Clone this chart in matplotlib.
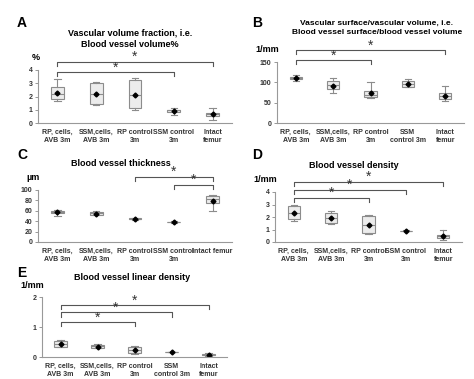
import matplotlib.pyplot as plt

plt.rcParams['font.family'] = ['Liberation Sans', 'DejaVu Sans']

# data: per group (whislo, q1, med, q3, whishi, mean)
vol_pct = [(1.65, 1.8, 2.2, 2.7, 3.3, 2.3),
           (1.35, 1.4, 2.2, 3.05, 3.1, 2.2),
           (0.95, 1.1, 2.15, 3.25, 3.4, 2.15),
           (0.6, 0.85, 0.95, 1.0, 1.1, 0.9),
           (0.25, 0.55, 0.65, 0.75, 1.15, 0.68)]
surf_vol = [(103, 107, 110, 112, 118, 110),
            (75, 83, 93, 103, 110, 92),
            (62, 63, 68, 78, 100, 74),
            (88, 89, 97, 104, 107, 96),
            (53, 60, 67, 73, 91, 67)]
thickness = [(50, 56, 58, 60, 62, 57),
             (51, 52, 55, 58, 59, 54),
             (43, 44, 45, 46, 47, 45),
             (37, 38, 38.5, 39, 40, 39),
             (60, 75, 82, 88, 90, 79)]
density = [(1.7, 1.85, 2.3, 2.85, 3.0, 2.35),
           (1.45, 1.55, 1.95, 2.35, 2.45, 1.95),
           (0.65, 0.7, 1.4, 2.05, 2.15, 1.35),
           (0.88, 0.9, 0.9, 0.92, 0.94, 0.9),
           (0.15, 0.35, 0.45, 0.6, 1.0, 0.45)]
lin_density = [(0.33, 0.35, 0.45, 0.52, 0.58, 0.43),
               (0.3, 0.31, 0.36, 0.4, 0.42, 0.35),
               (0.1, 0.13, 0.25, 0.35, 0.38, 0.23),
               (0.16, 0.165, 0.17, 0.175, 0.18, 0.17),
               (0.03, 0.06, 0.08, 0.1, 0.13, 0.08)]

labels_a = ["RP, cells,\nAVB 3m", "SSM,cells,\nAVB 3m", "RP control\n3m", "SSM control\n3m", "Intact\nfemur"]
labels_b = ["RP, cells,\nAVB 3m", "SSM,cells,\nAVB 3m", "RP control\n3m", "SSM\ncontrol 3m", "Intact\nfemur"]
labels_c = ["RP, cells,\nAVB 3m", "SSM,cells,\nAVB 3m", "RP control\n3m", "SSM control\n3m", "Intact femur\n"]

# significance brackets: (group from, group to, height)
sig_a = [(0, 4, 4.63), (0, 3, 3.83)]
sig_b = [(0, 4, 179), (0, 2, 155)]
sig_c = [(2, 4, 125), (3, 4, 110)]
sig_d = [(0, 4, 4.83), (0, 3, 4.16), (0, 2, 3.5)]
sig_e = [(0, 4, 1.73), (0, 3, 1.49), (0, 2, 1.16)]

W, H = 474, 379
fig = plt.figure(figsize=(W / 100, H / 100), dpi=100)


def panel(rect, data, labels, ylim, yticks, unit, sig, ticklen):
    l, t, r, b = rect
    ax = fig.add_axes([l / W, 1 - b / H, (r - l) / W, (b - t) / H])
    stats = [dict(whislo=d[0], q1=d[1], med=d[2], q3=d[3], whishi=d[4], mean=d[5], fliers=[])
             for d in data]
    pos = list(range(1, len(data) + 1))
    ax.bxp(stats, positions=pos, widths=0.33, showmeans=True, patch_artist=True,
           boxprops=dict(facecolor='#ececec', edgecolor='#8c8c8c', linewidth=0.8),
           medianprops=dict(color='#8c8c8c', linewidth=0.8),
           whiskerprops=dict(color='#8c8c8c', linewidth=0.8),
           capprops=dict(color='#8c8c8c', linewidth=0.8),
           meanprops=dict(marker='D', markerfacecolor='black', markeredgecolor='black', markersize=2.5))
    ax.set_xlim(0.5, len(data) + 0.5)
    ax.set_ylim(*ylim)
    ax.set_yticks(yticks)
    ax.set_xticks(pos)
    ax.set_xticklabels(labels, fontsize=5, color='#333333', fontweight='bold', linespacing=1.3)
    ax.tick_params(axis='x', length=0, pad=4)
    ax.tick_params(axis='y', labelsize=5, length=2, width=0.6, color='#888888', pad=2)
    for lab in ax.get_yticklabels():
        lab.set_fontweight('bold')
        lab.set_color('#333333')
    for s in ['top', 'right']:
        ax.spines[s].set_visible(False)
    for s in ['left', 'bottom']:
        ax.spines[s].set_color('#999999')
        ax.spines[s].set_linewidth(0.8)
    fig.text((l + 2) / W, 1 - (t - 12) / H, unit, fontsize=6.5, fontweight='bold', ha='right', va='center')
    span = ylim[1] - ylim[0]
    for a, bb, y in sig:
        ax.plot([a + 1, a + 1, bb + 1, bb + 1], [y - ticklen * span, y, y, y - ticklen * span],
                color='#555555', lw=0.8, clip_on=False)
        ax.text((a + bb + 2) / 2, y - 0.04 * span, '*', ha='center', va='bottom', fontsize=10,
                color='#333333', clip_on=False)
    return ax


panel((38, 70, 232, 123), vol_pct, labels_a, (0, 4), [0, 1, 2, 3, 4], '%', sig_a, 0.08)
panel((277, 62, 464, 123), surf_vol, labels_b, (0, 150), [0, 50, 100, 150], '1/mm', sig_b, 0.07)
panel((38, 190, 232, 242), thickness, labels_c, (0, 100), [0, 20, 40, 60, 80, 100], 'µm', sig_c, 0.08)
panel((275, 192, 462, 242), density, labels_a, (0, 4), [0, 1, 2, 3, 4], '1/mm', sig_d, 0.08)
panel((42, 297, 227, 357), lin_density, labels_b, (0, 2), [0, 1, 2], '1/mm', sig_e, 0.07)

# panel letters and titles
for x, y, s in [(22, 23, 'A'), (257, 23, 'B'), (22, 155, 'C'), (257, 155, 'D'), (22, 273, 'E')]:
    fig.text(x / W, 1 - y / H, s, fontsize=10, fontweight='bold', ha='center', va='center')
for x, y, s, fs in [(130, 39, 'Vascular volume fraction, i.e.\nBlood vessel volume%', 6.5),
                    (377, 28, 'Vascular surface/vascular volume, i.e.\nBlood vessel surface/blood vessel volume', 6),
                    (121, 164, 'Blood vessel thickness', 6.5),
                    (354, 165, 'Blood vessel density', 6.5),
                    (132, 278, 'Blood vessel linear density', 6.5)]:
    fig.text(x / W, 1 - y / H, s, fontsize=fs, fontweight='bold', ha='center', va='center', linespacing=1.35)

fig.savefig('out.png', dpi=100)
